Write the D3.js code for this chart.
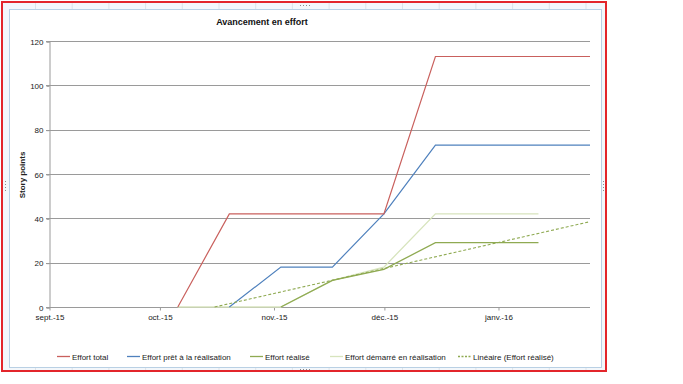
<!DOCTYPE html>
<html><head><meta charset="utf-8">
<script src="https://cdn.jsdelivr.net/npm/d3@7"></script>
<style>
html,body{margin:0;padding:0;background:#fff;}
svg{display:block;font-family:"Liberation Sans",Arial,sans-serif;}
</style></head>
<body>
<svg id="c" width="683" height="384"></svg>
<script>
// ---- data ----
const dates = ["2015-10-06","2015-10-20","2015-11-03","2015-11-17","2015-12-01","2015-12-15","2015-12-29","2016-01-12","2016-01-26"];
const effortTotal   = [0, 42, 42, 42, 42, 113, 113, 113, 113];
const effortPret    = [null, 0, 18, 18, 42, 73, 73, 73, 73];
const effortRealise = [null, null, 0, 12, 17, 29, 29, 29, null];
const effortDemarre = [0, 0, 0, 12, 18, 42, 42, 42, null];
const trendDates  = ["2015-10-16","2016-01-26"];
const trendValues = [0, 38.5];
const xTickDates  = ["2015-09-01","2015-10-01","2015-11-01","2015-12-01","2016-01-01"];
const xTickLabels = ["sept.-15","oct.-15","nov.-15","déc.-15","janv.-16"];
const yTicks = [0,20,40,60,80,100,120];
const seriesNames = ["Effort total","Effort prêt à la  réalisation","Effort réalisé","Effort démarré en réalisation","Linéaire (Effort réalisé)"];

const parse = d3.timeParse("%Y-%m-%d");
const svg = d3.select("#c");

// ---- frame (spreadsheet selection look) ----
svg.append("rect").attr("x",2).attr("y",2).attr("width",604).attr("height",369)
  .attr("fill","#f3f7fb").attr("stroke","#e3252b").attr("stroke-width",2);
const cellG = svg.append("g").attr("stroke","#dde3e9").attr("stroke-width",1);
for (let cx = 35.5; cx < 600; cx += 36.7) {
  cellG.append("line").attr("x1",cx).attr("x2",cx).attr("y1",3).attr("y2",9);
  cellG.append("line").attr("x1",cx).attr("x2",cx).attr("y1",368).attr("y2",370);
}
svg.append("rect").attr("x",9.5).attr("y",9.5).attr("width",592).attr("height",358)
  .attr("fill","#fff").attr("stroke","#b9d0e4").attr("stroke-width",1);
// handles
const hd = svg.append("g").attr("fill","#8a8a8a");
[[300,5],[303,5],[306,5],[309,5],[300,369],[303,369],[306,369],[309,369]].forEach(p=>hd.append("rect").attr("x",p[0]).attr("y",p[1]).attr("width",1).attr("height",1));
[[5,181],[5,184],[5,187],[5,190],[603,181],[603,184],[603,187],[603,190]].forEach(p=>hd.append("rect").attr("x",p[0]).attr("y",p[1]).attr("width",1).attr("height",1));

// ---- scales ----
const x = d3.scaleTime().domain([parse("2015-09-01"), parse("2016-01-26")]).range([49, 590]);
const y = d3.scaleLinear().domain([0,120]).range([307, 41]);

// gridlines
svg.append("g").selectAll("line").data(yTicks).join("line")
  .attr("x1",46).attr("x2",590)
  .attr("y1",d=>Math.round(y(d))+0.5).attr("y2",d=>Math.round(y(d))+0.5)
  .attr("stroke","#9a9a9a").attr("stroke-width",1);

// y axis
const yAxis = svg.append("g").attr("transform","translate(49.5,0.5)")
  .call(d3.axisLeft(y).tickValues(yTicks).tickSize(3).tickPadding(3));
yAxis.select(".domain").attr("stroke","#9a9a9a");
yAxis.selectAll(".tick line").attr("stroke","#9a9a9a");
yAxis.selectAll("text").attr("font-size",8).attr("fill","#1a1a1a");

// x axis
const xTicks = xTickDates.map(parse);
const xAxis = svg.append("g").attr("transform","translate(0.5,307.5)")
  .call(d3.axisBottom(x).tickValues(xTicks).tickSize(3).tickPadding(4)
    .tickFormat((d,i)=>xTickLabels[i]));
xAxis.select(".domain").remove();
xAxis.selectAll(".tick line").attr("stroke","#9a9a9a");
xAxis.selectAll("text").attr("font-size",8).attr("fill","#1a1a1a");

// ---- lines ----
const clip = svg.append("clipPath").attr("id","pa").append("rect")
  .attr("x",49).attr("y",38).attr("width",545).attr("height",270);
function mkData(vals){ return dates.map((d,i)=>({d:parse(d), v:vals[i]})); }
const line = d3.line().defined(p=>p.v!==null).x(p=>x(p.d)).y(p=>y(p.v));
const plot = svg.append("g").attr("clip-path","url(#pa)").attr("fill","none");
plot.append("path").datum(mkData(effortDemarre)).attr("d",line).attr("stroke","#d7e4bd").attr("stroke-width",1.3);
plot.append("path").datum(mkData(effortRealise)).attr("d",line).attr("stroke","#8faa52").attr("stroke-width",1.3);
plot.append("path").datum(mkData(effortPret)).attr("d",line).attr("stroke","#4f81bd").attr("stroke-width",1.2);
plot.append("path").datum(mkData(effortTotal)).attr("d",line).attr("stroke","#c9605d").attr("stroke-width",1.2);
const trend = trendDates.map((d,i)=>({d:parse(d), v:trendValues[i]}));
plot.append("path").datum(trend).attr("d",line).attr("stroke","#8faa52").attr("stroke-width",1.1)
  .attr("stroke-dasharray","3,2");

// ---- title / axis title ----
svg.append("text").attr("x",262).attr("y",25).attr("text-anchor","middle")
  .attr("font-size",9).attr("font-weight","bold").attr("fill","#111").text("Avancement en effort");
svg.append("text").attr("transform","translate(25,175) rotate(-90)").attr("text-anchor","middle")
  .attr("font-size",8).attr("font-weight","bold").attr("fill","#222").text("Story points");

// ---- legend ----
const legendX = [57, 127, 250, 330, 458];
const legendColors = ["#c9605d","#4f81bd","#8faa52","#d7e4bd","#8faa52"];
const lg = svg.append("g");
seriesNames.forEach((n,i)=>{
  lg.append("line").attr("x1",legendX[i]).attr("x2",legendX[i]+13).attr("y1",356.5).attr("y2",356.5)
    .attr("stroke",legendColors[i]).attr("stroke-width",1.3)
    .attr("stroke-dasharray", i===4 ? "2,1.5" : null);
  lg.append("text").attr("x",legendX[i]+15).attr("y",359.5).attr("font-size",8).attr("fill","#1a1a1a").text(n);
});
</script>
</body></html>
